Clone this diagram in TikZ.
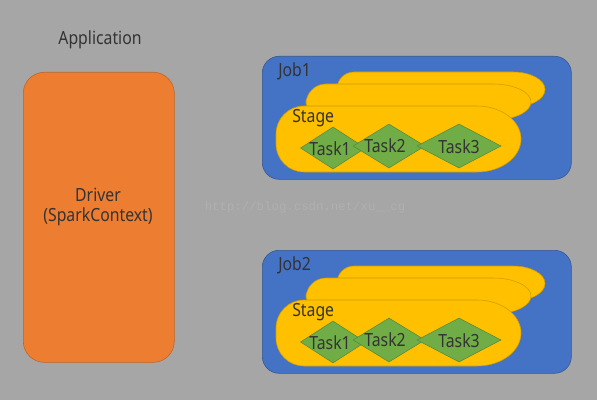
\documentclass[tikz,border=0pt]{standalone}
\usepackage{fontspec}
\setmainfont{Noto Sans}[FakeStretch=0.87]
\setmonofont{Liberation Mono}
\usepackage{tikz}
\usetikzlibrary{shapes.geometric}

\definecolor{fondo}{RGB}{166,166,166}
\definecolor{naranja}{RGB}{237,125,49}
\definecolor{azul}{RGB}{68,114,196}
\definecolor{amarillo}{RGB}{255,192,0}
\definecolor{verde}{RGB}{112,173,71}
\definecolor{marca}{RGB}{176,176,176}

\tikzset{
  texto/.style={text=black!80,inner sep=0pt,font=\fontsize{12.9}{14.2}\selectfont},
  driverbox/.style={rectangle,fill=naranja,draw=naranja!80!black,line width=0.4pt,rounded corners=15pt,inner sep=0pt},
  jobbox/.style={rectangle,fill=azul,draw=azul!75!black,line width=0.4pt,rounded corners=12pt,inner sep=0pt},
  stagebox/.style={fill=amarillo,draw=amarillo!82!black,line width=0.4pt},
  taskbox/.style={diamond,fill=verde,draw=verde!80!black,line width=0.4pt,inner sep=0pt}
}

% #1,#2 arriba-izquierda, #3,#4 abajo-derecha, #5 radio izq., #6 radio der.
\newcommand\stagepath[6]{%
  \filldraw[stagebox] ({#3-#6},#2) -- ({#1+#5},#2)
    arc[start angle=-90,end angle=-180,radius=#5] -- (#1,{#4-#5})
    arc[start angle=180,end angle=90,radius=#5] -- ({#3-#6},#4)
    arc[start angle=90,end angle=-90,x radius=#6,y radius={(#4-#2)/2}] -- cycle;}

\begin{document}
\begin{tikzpicture}[x=0.025cm,y=-0.025cm]
\fill[fondo] (0,0) rectangle (597,400);
\useasboundingbox (0,0) rectangle (597,400);

\path (100,40) node(app)[texto]{Application};
\path (23,72) node(driver)[driverbox,anchor=north west,minimum width=3.775cm,minimum height=7.25cm]{};
\path (98,207) node(drvtxt)[texto,align=center]{Driver\\(SparkContext)};

\path (305,207) node(marca)[inner sep=0pt,text=marca,font=\ttfamily\fontsize{8.8}{10}\selectfont]{http://blog.csdn.net/xu\_\_cg};

\foreach \j/\dy in {1/0,2/194}{
\begin{scope}[shift={(0,\dy)}]
  \path (262,56) node(job\j)[jobbox,anchor=north west,minimum width=7.725cm,minimum height=3.075cm]{};
  \stagepath{337}{72}{545}{107}{17}{32}
  \stagepath{306}{84}{531}{120}{20}{38}
  \stagepath{276}{106}{521}{172}{28}{44}
  \path (278,71) node(jt\j)[texto,anchor=west]{Job\j};
  \path (292,118) node(st\j)[texto,anchor=west]{Stage};
  \path (333,148) node(ta\j)[taskbox,minimum width=1.625cm,minimum height=1.05cm]{};
  \path (389,146) node(tb\j)[taskbox,minimum width=1.8cm,minimum height=1.1cm]{};
  \path (459,146) node(tc\j)[taskbox,minimum width=2.1cm,minimum height=1.1cm]{};
  \path (330,149) node[texto]{Task1};
  \path (385,146) node[texto]{Task2};
  \path (459,147) node[texto]{Task3};
\end{scope}}
\end{tikzpicture}
\end{document}
